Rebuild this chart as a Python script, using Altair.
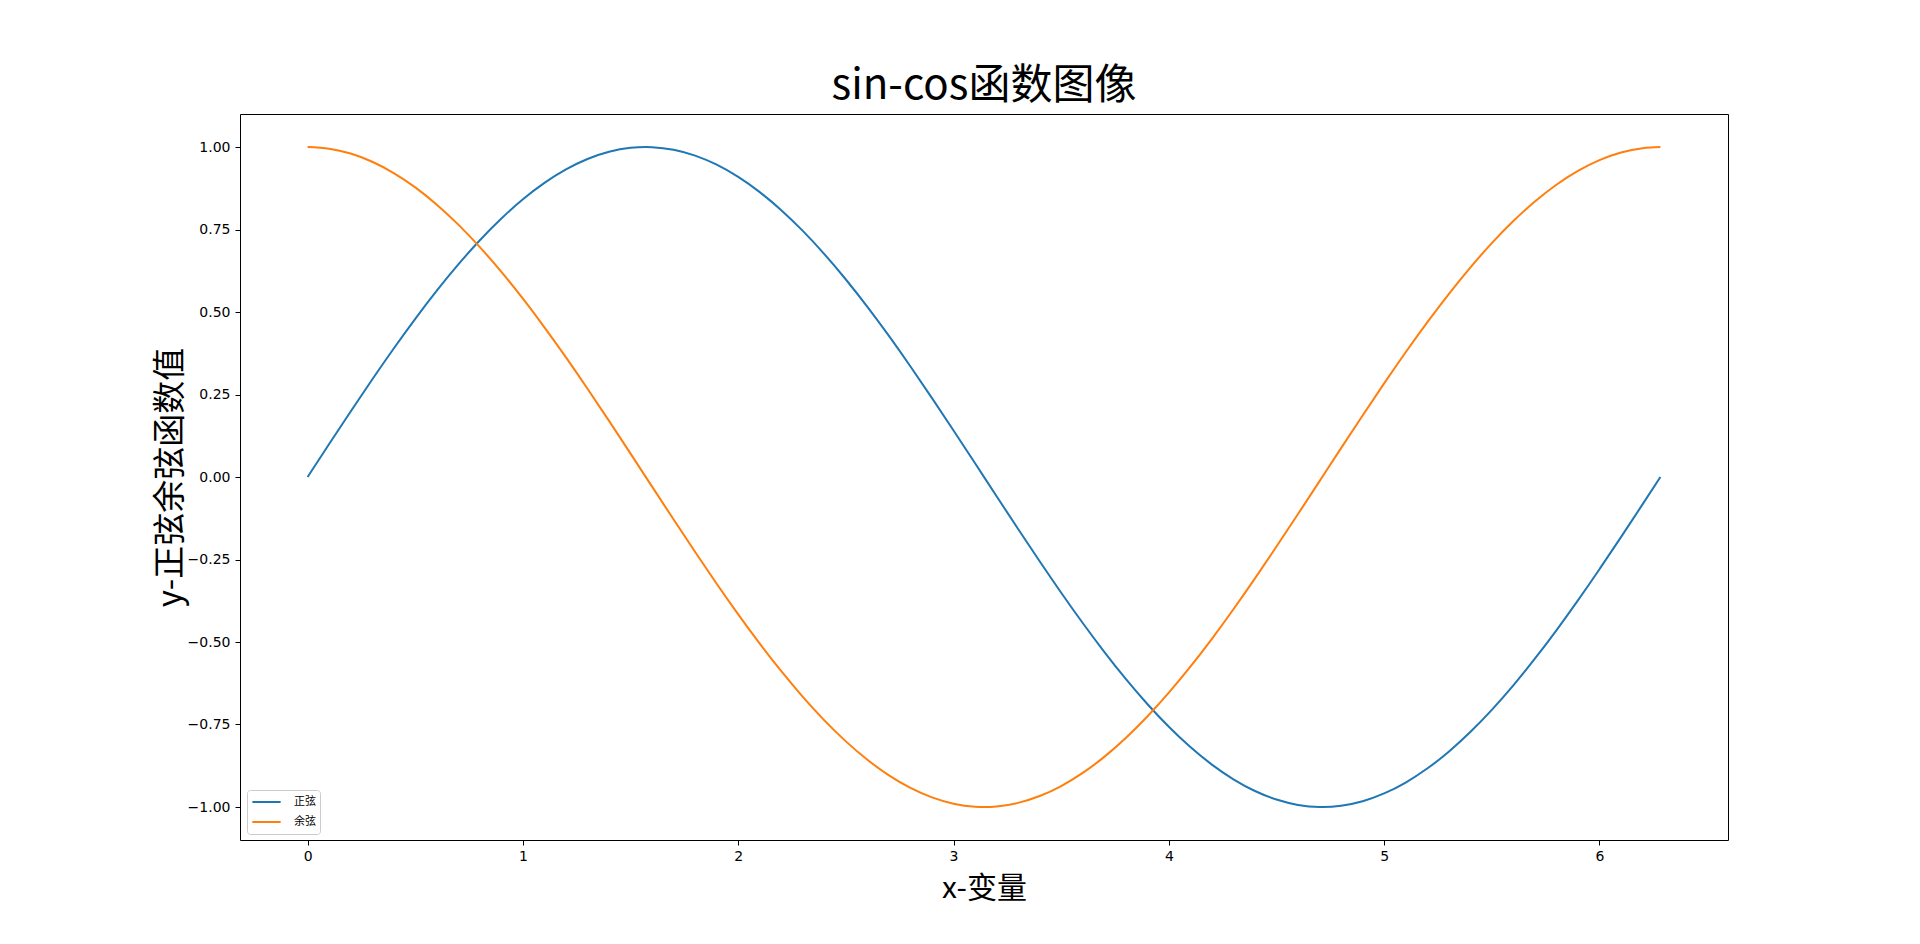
import altair as alt
import pandas as pd

x_vals = [0.0, 0.1, 0.2, 0.3, 0.4, 0.5, 0.6, 0.7, 0.8, 0.9,
          1.0, 1.1, 1.2, 1.3, 1.4, 1.5, 1.6, 1.7, 1.8, 1.9,
          2.0, 2.1, 2.2, 2.3, 2.4, 2.5, 2.6, 2.7, 2.8, 2.9,
          3.0, 3.1, 3.2, 3.3, 3.4, 3.5, 3.6, 3.7, 3.8, 3.9,
          4.0, 4.1, 4.2, 4.3, 4.4, 4.5, 4.6, 4.7, 4.8, 4.9,
          5.0, 5.1, 5.2, 5.3, 5.4, 5.5, 5.6, 5.7, 5.8, 5.9,
          6.0, 6.1, 6.2, 6.283]

sin_vals = [0.000, 0.0998, 0.1987, 0.2955, 0.3894, 0.4794, 0.5646, 0.6442, 0.7174, 0.7833,
            0.8415, 0.8912, 0.9320, 0.9636, 0.9854, 0.9975, 0.9996, 0.9917, 0.9738, 0.9463,
            0.9093, 0.8632, 0.8085, 0.7457, 0.6755, 0.5985, 0.5155, 0.4274, 0.3350, 0.2392,
            0.1411, 0.0416, -0.0584, -0.1577, -0.2555, -0.3508, -0.4425, -0.5298, -0.6119, -0.6878,
            -0.7568, -0.8183, -0.8716, -0.9162, -0.9516, -0.9775, -0.9937, -0.9999, -0.9962, -0.9825,
            -0.9589, -0.9258, -0.8835, -0.8323, -0.7728, -0.7055, -0.6313, -0.5507, -0.4646, -0.3739,
            -0.2794, -0.1822, -0.0831, -0.0000]

cos_vals = [1.000, 0.9950, 0.9801, 0.9553, 0.9211, 0.8776, 0.8253, 0.7648, 0.6967, 0.6216,
            0.5403, 0.4536, 0.3624, 0.2675, 0.1700, 0.0707, -0.0292, -0.1288, -0.2272, -0.3233,
            -0.4161, -0.5048, -0.5885, -0.6663, -0.7374, -0.8011, -0.8569, -0.9041, -0.9422, -0.9710,
            -0.9900, -0.9991, -0.9983, -0.9875, -0.9668, -0.9365, -0.8968, -0.8481, -0.7910, -0.7259,
            -0.6536, -0.5748, -0.4903, -0.4008, -0.3073, -0.2108, -0.1122, -0.0124, 0.0875, 0.1865,
            0.2837, 0.3780, 0.4685, 0.5544, 0.6347, 0.7087, 0.7756, 0.8347, 0.8855, 0.9275,
            0.9602, 0.9833, 0.9965, 1.000]

series_names = ["正弦", "余弦"]
series_colors = ["#1f77b4", "#ff7f0e"]
x_ticks = [0, 1, 2, 3, 4, 5, 6]
y_ticks = [-1.0, -0.75, -0.5, -0.25, 0.0, 0.25, 0.5, 0.75, 1.0]

rows = []
for i, xv in enumerate(x_vals):
    rows.append({"x": xv, "y": sin_vals[i], "s": series_names[0], "o": i})
for i, xv in enumerate(x_vals):
    rows.append({"x": xv, "y": cos_vals[i], "s": series_names[1], "o": i})
df = pd.DataFrame(rows)

W, H = 1488, 726

chart = alt.Chart(df).mark_line(strokeWidth=2, interpolate="natural").encode(
    x=alt.X("x:Q",
            scale=alt.Scale(domain=[-0.314, 6.597], nice=False, zero=False),
            axis=alt.Axis(values=x_ticks, format="d", title="x-变量",
                          titleX=W / 2, titleY=48, titleBaseline="middle",
                          titleAlign="center", titleFontSize=30,
                          titleFont="Noto Sans CJK SC", titleFontWeight="normal")),
    y=alt.Y("y:Q",
            scale=alt.Scale(domain=[-1.1, 1.1], nice=False, zero=False),
            axis=alt.Axis(values=y_ticks, format=".2f", title="y-正弦余弦函数值",
                          titleX=-70, titleY=H / 2, titleAngle=-90,
                          titleBaseline="middle", titleAlign="center",
                          titleFontSize=33, titleFont="Noto Sans CJK SC",
                          titleFontWeight="normal")),
    color=alt.Color("s:N",
                    scale=alt.Scale(domain=series_names, range=series_colors),
                    legend=alt.Legend(title=None, orient="none", legendX=7, legendY=676,
                                      symbolType="stroke", symbolSize=800,
                                      symbolStrokeWidth=2, labelFontSize=11,
                                      labelFont="Noto Sans CJK SC", labelColor="black",
                                      strokeColor="#cccccc", fillColor="white",
                                      padding=4, cornerRadius=3, rowPadding=4,
                                      clipHeight=16, labelOffset=12)),
    order="o:Q",
).properties(
    width=W, height=H,
    title=alt.TitleParams("sin-cos函数图像", fontSize=42, font="Noto Sans CJK SC",
                          fontWeight="normal", color="black", anchor="middle", offset=6),
    autosize=alt.AutoSizeParams(type="none"),
    padding={"left": 232, "top": 106, "right": 60, "bottom": 80},
).configure_view(
    stroke="black", strokeWidth=1
).configure_axis(
    grid=False, domain=False, tickColor="black", tickSize=5, tickWidth=1,
    labelFont="DejaVu Sans", labelFontSize=14, labelColor="black", labelPadding=4,
).configure_axisY(
    labelPadding=5
)

chart.save("out.html", embed_options={"renderer": "svg", "actions": False})
